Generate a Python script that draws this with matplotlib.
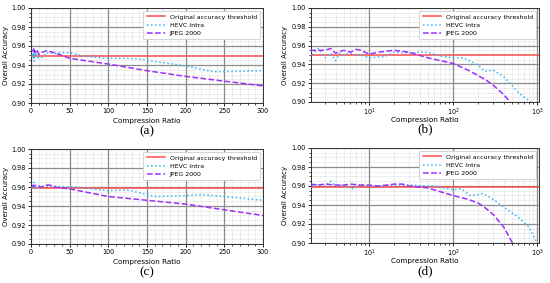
import matplotlib
matplotlib.use("Agg")
import matplotlib.pyplot as plt
from matplotlib.ticker import AutoMinorLocator, MultipleLocator, FormatStrFormatter

# data set 1 -> panels (a) and (b)
hevc1_x = [2.1, 2.5, 3, 3.5, 4, 4.5, 5, 6, 7, 8, 10, 13, 15, 20, 30, 40, 50, 70, 100,
           130, 150, 200, 235, 250, 300, 400, 500, 600, 700, 850]
hevc1_y = [0.950, 0.957, 0.947, 0.952, 0.944, 0.952, 0.950, 0.952, 0.950, 0.950, 0.947,
           0.948, 0.948, 0.953, 0.952, 0.953, 0.953, 0.949, 0.947, 0.947, 0.945, 0.939,
           0.933, 0.933, 0.934, 0.927, 0.918, 0.910, 0.905, 0.900]
jpeg1_x = [2, 3, 3.5, 4, 5, 6, 7, 8, 10, 13, 20, 30, 50, 100, 150, 200, 250, 300, 400, 480]
jpeg1_y = [0.955, 0.955, 0.957, 0.952, 0.955, 0.953, 0.956, 0.955, 0.951, 0.953, 0.955,
           0.953, 0.947, 0.941, 0.934, 0.928, 0.923, 0.918, 0.908, 0.900]
thr1 = 0.9495

# data set 2 -> panels (c) and (d)
hevc2_x = [2.1, 2.5, 3, 3.5, 4, 5, 6, 6.5, 7, 8, 10, 13, 20, 30, 50, 60, 100, 120, 130,
           160, 200, 220, 250, 300, 400, 500, 600, 800, 1000]
hevc2_y = [0.960, 0.962, 0.960, 0.965, 0.960, 0.961, 0.958, 0.957, 0.960, 0.961, 0.960,
           0.960, 0.961, 0.961, 0.960, 0.960, 0.956, 0.957, 0.956, 0.950, 0.951, 0.952,
           0.950, 0.946, 0.938, 0.932, 0.927, 0.917, 0.900]
jpeg2_x = [2, 2.5, 3, 4, 5, 6, 8, 10, 13, 20, 25, 30, 50, 100, 150, 200, 250, 300, 400, 510]
jpeg2_y = [0.962, 0.961, 0.962, 0.961, 0.961, 0.962, 0.961, 0.961, 0.960, 0.962, 0.962,
           0.960, 0.958, 0.950, 0.946, 0.942, 0.936, 0.930, 0.917, 0.900]
thr2 = 0.959

labels = ["(a)", "(b)", "(c)", "(d)"]

fig = plt.figure(figsize=(5.5, 2.83), dpi=100)
rects = [
    [31/550, 1 - 103/283, 232/550, 95/283],
    [311/550, 1 - 102/283, 228/550, 94/283],
    [31/550, 1 - 244/283, 232/550, 95/283],
    [311/550, 1 - 243/283, 228/550, 95/283],
]
sets = [(hevc1_x, hevc1_y, jpeg1_x, jpeg1_y, thr1),
        (hevc1_x, hevc1_y, jpeg1_x, jpeg1_y, thr1),
        (hevc2_x, hevc2_y, jpeg2_x, jpeg2_y, thr2),
        (hevc2_x, hevc2_y, jpeg2_x, jpeg2_y, thr2)]

for i, (rect, data, lab) in enumerate(zip(rects, sets, labels)):
    hx, hy, jx, jy, thr = data
    ax = fig.add_axes(rect)
    ax.axhline(thr, color="#ff4d4d", lw=1.1, label="Original accuracy threshold", zorder=3)
    ax.plot(hx, hy, color="#33b5f5", ls=":", lw=1.1, label="HEVC Intra", zorder=4)
    ax.plot(jx, jy, color="#9b30ff", ls="--", lw=1.1, label="JPEG 2000", zorder=4)
    if i % 2 == 0:
        ax.set_xlim(0, 300)
        ax.xaxis.set_major_locator(MultipleLocator(50))
        ax.xaxis.set_minor_locator(MultipleLocator(10))
        ylab_x = -0.095
    else:
        ax.set_xscale("log")
        ax.set_xlim(2.04, 1055)
        ylab_x = -0.1
    ax.set_ylim(0.90, 1.00)
    ax.yaxis.set_major_locator(MultipleLocator(0.02))
    ax.yaxis.set_minor_locator(AutoMinorLocator(4))
    ax.yaxis.set_major_formatter(FormatStrFormatter("%.2f"))
    ax.grid(which="major", color="#8c8c8c", lw=0.9)
    ax.grid(which="minor", color="k", alpha=0.09, lw=0.5)
    ax.set_axisbelow(True)
    ax.tick_params(labelsize=4.7, length=2.5, width=0.6, pad=1.2)
    ax.tick_params(which="minor", length=1.5, width=0.5)
    for s in ax.spines.values():
        s.set_linewidth(0.7)
        s.set_color("#333333")
    ax.set_xlabel("Compression Ratio", fontsize=5.2)
    ax.set_ylabel("Overall Accuracy", fontsize=5.0)
    ax.xaxis.set_label_coords(0.5, -0.16)
    ax.yaxis.set_label_coords(ylab_x, 0.5)
    leg = ax.legend(loc="upper right", fontsize=4.5, framealpha=1, borderpad=0.5,
                    handlelength=2.9, labelspacing=0.45, edgecolor="#cccccc", fancybox=True)
    leg.get_frame().set_linewidth(0.6)
    ax.text(0.5, -0.295, lab, transform=ax.transAxes, ha="center", va="center",
            fontsize=9.5, family="Liberation Serif")

fig.savefig("out.png", dpi=100)
